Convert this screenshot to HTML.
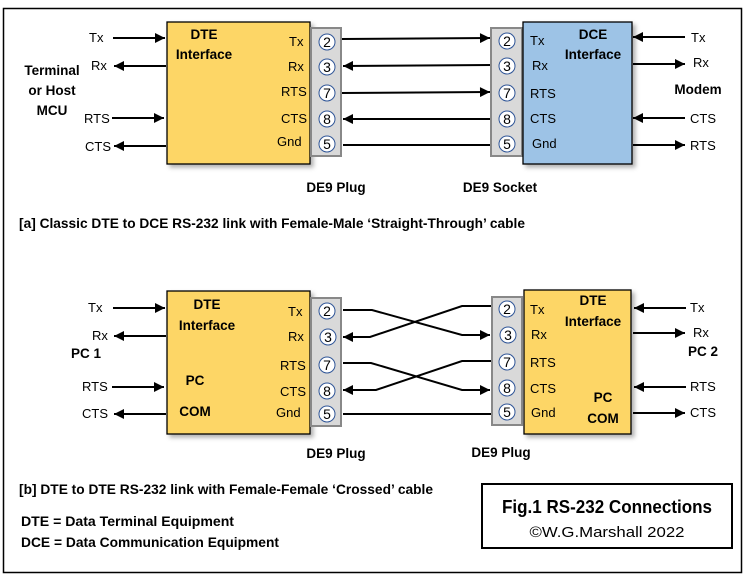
<!DOCTYPE html>
<html><head><meta charset="utf-8"><style>
html,body{margin:0;padding:0;background:#fff}
svg{display:block}
text{font-family:"Liberation Sans",sans-serif;fill:#000}
.b{font-weight:bold}
</style></head><body>
<svg width="748" height="581" viewBox="0 0 748 581" xmlns="http://www.w3.org/2000/svg">
<defs>
<marker id="a" viewBox="0 0 10 10" refX="10" refY="5" markerWidth="5.5" markerHeight="5" orient="auto"><path d="M0,0L10,5L0,10z" fill="#000"/></marker>
<filter id="s" x="-10%" y="-10%" width="130%" height="130%"><feDropShadow dx="3" dy="3" stdDeviation="2" flood-color="#000" flood-opacity="0.3"/></filter>
</defs>
<rect x="3.5" y="8.5" width="738" height="564" fill="#fff" stroke="#000" stroke-width="1.5"/>
<g stroke="#000" stroke-width="2" fill="none">
<line x1="113" y1="38" x2="165" y2="38" marker-end="url(#a)"/>
<line x1="166" y1="66" x2="114" y2="66" marker-end="url(#a)"/>
<line x1="112" y1="118" x2="164" y2="118" marker-end="url(#a)"/>
<line x1="166" y1="146" x2="114" y2="146" marker-end="url(#a)"/>
<line x1="341" y1="39" x2="490" y2="38" marker-end="url(#a)"/>
<line x1="492" y1="65" x2="343" y2="66" marker-end="url(#a)"/>
<line x1="341" y1="93" x2="490" y2="92" marker-end="url(#a)"/>
<line x1="492" y1="119" x2="343" y2="119" marker-end="url(#a)"/>
<line x1="343" y1="145" x2="492" y2="145"/>
<line x1="685" y1="37" x2="633" y2="37" marker-end="url(#a)"/>
<line x1="633" y1="64" x2="685" y2="64" marker-end="url(#a)"/>
<line x1="685" y1="118" x2="633" y2="118" marker-end="url(#a)"/>
<line x1="633" y1="145" x2="685" y2="145" marker-end="url(#a)"/>
<line x1="113" y1="308" x2="165" y2="308" marker-end="url(#a)"/>
<line x1="166" y1="336" x2="114" y2="336" marker-end="url(#a)"/>
<line x1="112" y1="387" x2="164" y2="387" marker-end="url(#a)"/>
<line x1="166" y1="414" x2="114" y2="414" marker-end="url(#a)"/>
<polyline points="343,310 372,310 462,335 490,335" marker-end="url(#a)"/>
<polyline points="492,306 462,306 370,337 343,337" marker-end="url(#a)"/>
<polyline points="343,363 371,363 462,390 490,390" marker-end="url(#a)"/>
<polyline points="492,361 462,361 376,390 343,390" marker-end="url(#a)"/>
<line x1="343" y1="414" x2="492" y2="414"/>
<line x1="686" y1="308" x2="634" y2="308" marker-end="url(#a)"/>
<line x1="633" y1="333" x2="685" y2="333" marker-end="url(#a)"/>
<line x1="686" y1="387" x2="634" y2="387" marker-end="url(#a)"/>
<line x1="633" y1="413" x2="685" y2="413" marker-end="url(#a)"/>
</g>
<rect x="167" y="22" width="143" height="142" fill="#fdd666" stroke="#000" stroke-width="1.3" filter="url(#s)"/>
<rect x="311" y="28" width="30" height="128" fill="#d9d9d9" stroke="#888" stroke-width="2"/>
<rect x="491" y="28" width="31" height="128" fill="#d9d9d9" stroke="#888" stroke-width="2"/>
<rect x="523" y="22" width="109" height="142" fill="#9dc3e6" stroke="#000" stroke-width="1.3" filter="url(#s)"/>
<rect x="167" y="291" width="143" height="143" fill="#fdd666" stroke="#000" stroke-width="1.3" filter="url(#s)"/>
<rect x="311" y="298" width="30" height="128" fill="#d9d9d9" stroke="#888" stroke-width="2"/>
<rect x="492" y="297" width="30" height="128" fill="#d9d9d9" stroke="#888" stroke-width="2"/>
<rect x="524" y="290" width="107" height="144" fill="#fdd666" stroke="#000" stroke-width="1.3" filter="url(#s)"/>
<g fill="#fff" stroke="#2f5597" stroke-width="1">
<circle cx="327" cy="42" r="8"/><circle cx="327" cy="67" r="8"/><circle cx="327" cy="93" r="8"/><circle cx="327" cy="119" r="8"/><circle cx="327" cy="144" r="8"/>
<circle cx="507" cy="41" r="8"/><circle cx="507" cy="66" r="8"/><circle cx="507" cy="93" r="8"/><circle cx="507" cy="119" r="8"/><circle cx="507" cy="144" r="8"/>
<circle cx="327" cy="311" r="8"/><circle cx="328" cy="337" r="8"/><circle cx="327" cy="365" r="8"/><circle cx="327" cy="391" r="8"/><circle cx="327" cy="414" r="8"/>
<circle cx="507" cy="309" r="8"/><circle cx="508" cy="335" r="8"/><circle cx="507" cy="362" r="8"/><circle cx="507" cy="388" r="8"/><circle cx="507" cy="412" r="8"/>
</g>
<g font-size="14" text-anchor="middle">
<text x="327" y="47">2</text><text x="327" y="72">3</text><text x="327" y="98">7</text><text x="327" y="124">8</text><text x="327" y="149">5</text>
<text x="507" y="46">2</text><text x="507" y="71">3</text><text x="507" y="98">7</text><text x="507" y="124">8</text><text x="507" y="149">5</text>
<text x="327" y="316">2</text><text x="328" y="342">3</text><text x="327" y="370">7</text><text x="327" y="396">8</text><text x="327" y="419">5</text>
<text x="507" y="314">2</text><text x="508" y="340">3</text><text x="507" y="367">7</text><text x="507" y="393">8</text><text x="507" y="417">5</text>
</g>
<g font-size="13">
<text x="89" y="42">Tx</text><text x="91" y="70">Rx</text><text x="84" y="123">RTS</text><text x="85" y="151">CTS</text>
<text x="289" y="46">Tx</text><text x="288" y="71">Rx</text><text x="281" y="96">RTS</text><text x="281" y="123">CTS</text><text x="277" y="146">Gnd</text>
<text x="530" y="45">Tx</text><text x="532" y="70">Rx</text><text x="530" y="98">RTS</text><text x="530" y="123">CTS</text><text x="532" y="148">Gnd</text>
<text x="691" y="42">Tx</text><text x="693" y="67">Rx</text><text x="690" y="123">CTS</text><text x="690" y="150">RTS</text>
<text x="88" y="312">Tx</text><text x="92" y="340">Rx</text><text x="82" y="391">RTS</text><text x="82" y="418">CTS</text>
<text x="288" y="316">Tx</text><text x="288" y="341">Rx</text><text x="280" y="370">RTS</text><text x="280" y="396">CTS</text><text x="276" y="417">Gnd</text>
<text x="530" y="314">Tx</text><text x="531" y="339">Rx</text><text x="530" y="367">RTS</text><text x="530" y="393">CTS</text><text x="531" y="417">Gnd</text>
<text x="690" y="312">Tx</text><text x="693" y="337">Rx</text><text x="690" y="391">RTS</text><text x="690" y="417">CTS</text>
</g>
<g font-size="13.5">
<text class="b" x="204" y="39" text-anchor="middle">DTE</text>
<text class="b" x="204" y="59" text-anchor="middle">Interface</text>
<text class="b" x="593" y="39" text-anchor="middle">DCE</text>
<text class="b" x="593" y="59" text-anchor="middle">Interface</text>
<text class="b" x="52" y="75" text-anchor="middle">Terminal</text>
<text class="b" x="52" y="95" text-anchor="middle">or Host</text>
<text class="b" x="52" y="115" text-anchor="middle">MCU</text>
<text class="b" x="698" y="94" text-anchor="middle">Modem</text>
<text class="b" x="336" y="192" text-anchor="middle">DE9 Plug</text>
<text class="b" x="500" y="192" text-anchor="middle">DE9 Socket</text>
<text class="b" x="207" y="309" text-anchor="middle">DTE</text>
<text class="b" x="207" y="330" text-anchor="middle">Interface</text>
<text class="b" x="195" y="385" text-anchor="middle">PC</text>
<text class="b" x="195" y="416" text-anchor="middle">COM</text>
<text class="b" x="593" y="305" text-anchor="middle">DTE</text>
<text class="b" x="593" y="326" text-anchor="middle">Interface</text>
<text class="b" x="603" y="402" text-anchor="middle">PC</text>
<text class="b" x="603" y="423" text-anchor="middle">COM</text>
<text class="b" x="86" y="358" text-anchor="middle">PC 1</text>
<text class="b" x="703" y="356" text-anchor="middle">PC 2</text>
<text class="b" x="336" y="458" text-anchor="middle">DE9 Plug</text>
<text class="b" x="501" y="457" text-anchor="middle">DE9 Plug</text>
<text class="b" x="19" y="228" textLength="506" lengthAdjust="spacingAndGlyphs">[a] Classic DTE to DCE RS-232 link with Female-Male ‘Straight-Through’ cable</text>
<text class="b" x="19" y="494" textLength="414" lengthAdjust="spacingAndGlyphs">[b] DTE to DTE RS-232 link with Female-Female ‘Crossed’ cable</text>
<text class="b" x="21" y="526" textLength="213" lengthAdjust="spacingAndGlyphs">DTE = Data Terminal Equipment</text>
<text class="b" x="21" y="547" textLength="258" lengthAdjust="spacingAndGlyphs">DCE = Data Communication Equipment</text>
</g>
<rect x="482" y="484" width="250" height="64" fill="#fff" stroke="#000" stroke-width="2"/>
<text x="607" y="513" font-size="18" font-weight="bold" text-anchor="middle" textLength="210" lengthAdjust="spacingAndGlyphs">Fig.1 RS-232 Connections</text>
<text x="607" y="537" font-size="15" text-anchor="middle" textLength="155" lengthAdjust="spacingAndGlyphs">©W.G.Marshall 2022</text>
</svg>
</body></html>
